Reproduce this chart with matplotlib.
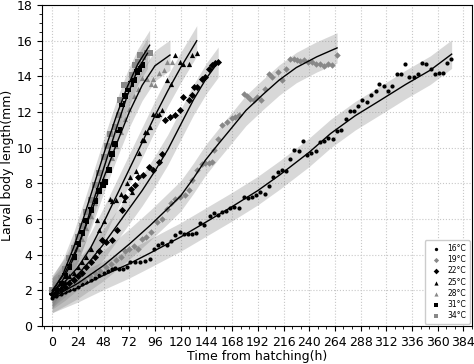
import matplotlib
matplotlib.use("Agg")
import matplotlib.pyplot as plt
from matplotlib.ticker import MultipleLocator

labels = ["16°C", "19°C", "22°C", "25°C", "28°C", "31°C", "34°C"]

# ---- observed points (time h, length mm) ----
t16 = [0, 4, 8, 12, 16, 20, 24, 28, 32, 36, 40, 44, 48, 52, 56, 59, 62, 66, 70, 73, 77, 82, 87, 91.5,
       95, 99, 103, 107, 111, 115, 119, 123, 127, 130.5, 134.5, 138, 142, 147, 151, 155, 158.5, 162.5,
       166, 170, 174.5, 178.7, 182.5, 186.5, 190.6, 194.3, 198.3, 202, 206.6, 211, 214.5, 218, 222,
       226, 230, 234, 238, 242, 246, 250, 254, 258, 262, 266, 270, 274, 278, 281.5, 285.7, 289.7,
       293.7, 297.8, 301.9, 305.6, 309.6, 313.7, 317.7, 321.7, 325.4, 329.5, 333.5, 337.6, 341.3,
       345.4, 349.4, 353.5, 357.2, 361.3, 365.3, 369.1, 372.8]
L16 = [1.6, 1.7, 1.8, 1.9, 2.0, 2.1, 2.2, 2.35, 2.5, 2.6, 2.7, 2.85, 3.0, 3.1, 3.22, 3.28, 3.22, 3.22,
       3.31, 3.59, 3.59, 3.59, 3.65, 3.78, 4.34, 4.53, 4.66, 4.57, 4.77, 5.09, 5.27, 5.18, 5.18, 5.15,
       5.22, 5.78, 5.65, 6.16, 6.34, 6.25, 6.4, 6.44, 6.64, 6.68, 6.64, 7.24, 7.2, 7.24, 7.33, 7.52,
       7.43, 7.84, 8.36, 8.64, 8.78, 8.68, 9.39, 9.86, 9.8, 10.36, 9.62, 9.71, 9.8, 10.33, 10.36,
       10.55, 10.5, 10.94, 10.98, 11.64, 12.07, 12.07, 12.33, 12.67, 12.57, 12.98, 13.19, 13.6,
       13.47, 13.17, 13.47, 14.12, 14.12, 14.72, 13.97, 13.97, 14.11, 14.76, 14.67, 14.44, 14.11,
       14.2, 14.22, 14.76, 15.0]

t19 = [0, 5, 10, 15, 20, 25, 30, 35, 40, 45, 50, 55, 60, 64, 68, 72, 76, 80, 84, 88, 92, 97.8, 102.5,
       107, 111, 115, 119.5, 123.6, 127.4, 130.5, 135, 139.8, 143, 146, 149, 150.7, 155.3, 158.5, 163,
       167.8, 171, 174, 178.7, 181.8, 185, 188, 191.2, 195, 198.3, 202, 205.2, 210.4, 214.5, 218.5,
       222.3, 225.4, 228.5, 231.7, 235.4, 239.2, 242.6, 246, 249.7, 253.5, 257.2, 261, 265.9]
L19 = [1.8, 1.9, 2.0, 2.2, 2.3, 2.5, 2.6, 2.8, 3.0, 3.1, 3.3, 3.5, 3.7, 3.9, 4.2, 4.3, 4.5, 4.3, 4.9,
       5.0, 5.3, 5.84, 6.03, 6.59, 6.9, 7.15, 7.24, 7.33, 7.61, 8.18, 8.74, 9.11, 9.15, 9.15, 9.2,
       9.86, 10.52, 11.26, 11.45, 11.69, 11.73, 11.82, 13.04, 12.89, 12.76, 12.67, 12.85, 12.7,
       13.32, 14.11, 13.97, 14.25, 13.79, 14.44, 15.0, 14.95, 14.91, 14.85, 14.91, 14.81, 14.81,
       14.72, 14.72, 14.57, 14.72, 14.63, 15.23]

t22 = [0, 4, 8, 12, 16, 20, 24, 28, 32, 36, 40, 44, 46.4, 50, 55.7, 60.4, 65, 68, 74, 77, 80.6, 85,
       90, 94.6, 99.3, 102.4, 105.5, 110.2, 115, 119.5, 122.6, 127.3, 130.5, 132, 135, 139.8, 143,
       146, 149, 152.2, 154.4]
L22 = [1.8, 1.9, 2.0, 2.2, 2.4, 2.6, 2.8, 3.0, 3.3, 3.6, 3.9, 4.2, 4.81, 4.7, 4.81, 5.37, 6.5, 7.24,
       7.71, 7.9, 8.36, 8.5, 8.92, 8.74, 9.2, 9.67, 11.58, 11.7, 11.82, 12.1, 12.85, 12.67, 12.95,
       13.41, 13.41, 13.88, 13.97, 14.44, 14.63, 14.76, 14.81]

t25 = [0, 4, 8, 12, 16, 20, 24, 28, 32, 36, 41.7, 44, 48, 54, 56, 60, 64, 66.6, 70, 72.8, 74.4, 78,
       81, 83.7, 85.3, 87, 88.4, 91.5, 94.6, 97.8, 100, 102.4, 107, 111, 114.9, 119.5, 122.6, 127.3,
       130.5, 135]
L25 = [1.9, 2.0, 2.2, 2.5, 2.8, 3.0, 3.3, 3.6, 3.9, 4.3, 5.93, 5.4, 5.9, 7.15, 7.0, 7.1, 7.4, 7.05,
       8.0, 8.36, 7.52, 8.7, 9.7, 10.42, 10.42, 10.89, 10.89, 11.17, 11.92, 11.82, 11.9, 12.1, 13.79,
       13.6, 15.19, 14.82, 14.72, 14.72, 15.19, 15.29]

t28 = [0, 4, 8, 12, 16, 20, 24, 28, 32, 36, 40, 44, 48, 52, 56, 60, 64, 68, 72, 76, 80, 84, 88.4, 92,
       94.6, 96.2, 100, 104, 107, 111.8]
L28 = [2.0, 2.2, 2.5, 2.9, 3.3, 3.8, 4.3, 4.9, 5.5, 6.2, 6.9, 7.6, 8.2, 8.8, 9.4, 10.1, 10.9, 11.6,
       12.2, 12.9, 13.3, 13.9, 13.88, 13.6, 13.88, 13.5, 14.2, 14.35, 14.82, 14.82]

t31 = [0, 4, 8, 12, 16, 20, 24, 28, 32, 36, 40, 44, 47, 49.5, 52.6, 55.7, 59, 62, 65, 68, 71, 73.5,
       76, 79, 81.5, 83.7]
L31 = [1.9, 2.1, 2.4, 2.8, 3.3, 3.9, 4.6, 5.2, 5.9, 6.5, 7.0, 7.6, 7.9, 8.08, 8.74, 9.67, 10.24,
       10.98, 12.48, 12.9, 13.32, 13.6, 13.79, 14.26, 14.4, 14.63]

t34 = [0, 4, 8, 12, 16, 20, 24, 28, 32, 36, 40, 44, 48, 51, 54, 59, 62, 63.5, 66.6, 71, 74.4, 77.5,
       80.6, 82, 85, 88.4, 91.5]
L34 = [2.0, 2.3, 2.7, 3.2, 3.8, 4.4, 5.0, 5.6, 6.4, 7.1, 7.9, 8.6, 9.5, 10.1, 10.8, 11.17, 11.82,
       12.67, 13.5, 13.5, 14.07, 14.63, 14.82, 15.19, 15.1, 15.29, 15.29]

# ---- fitted curves (time h, length mm) ----
ft16 = [0, 24, 48, 72, 91.5, 120, 144, 168, 192, 213, 240, 260, 283, 306, 330, 353, 373]
fL16 = [1.55, 2.15, 2.85, 3.5, 4.1, 5.0, 5.85, 6.7, 7.6, 8.5, 9.75, 10.8, 11.8, 12.65, 13.55, 14.35, 15.25]
ft19 = [0, 24, 48, 72, 91.5, 108, 120, 132, 143, 155, 166, 181, 197, 212, 228, 247, 266]
fL19 = [1.6, 2.4, 3.4, 4.6, 5.65, 6.6, 7.3, 8.3, 9.3, 10.2, 11.0, 12.1, 13.0, 13.8, 14.5, 15.1, 15.6]
ft22 = [0, 12, 24, 36, 48, 60, 72, 84, 96, 108, 120, 132, 144, 155]
fL22 = [1.8, 2.3, 2.9, 3.7, 4.6, 5.6, 6.6, 7.6, 8.7, 9.9, 11.3, 12.7, 13.9, 14.8]
ft25 = [0, 12, 24, 36, 48, 60, 72, 84, 96, 108, 120, 135]
fL25 = [1.9, 2.5, 3.3, 4.4, 5.8, 7.3, 8.8, 10.3, 11.8, 13.2, 14.5, 16.0]
ft28 = [0, 12, 24, 36, 48, 60, 72, 84, 96, 110]
fL28 = [2.0, 3.0, 4.5, 6.3, 8.3, 10.2, 12.0, 13.5, 14.6, 15.2]
ft31 = [0, 10, 20, 30, 40, 50, 60, 70, 80, 89]
fL31 = [1.85, 2.6, 3.8, 5.4, 7.3, 9.2, 11.1, 12.9, 14.4, 15.3]
ft34 = [0, 10, 20, 30, 40, 50, 60, 70, 80, 91]
fL34 = [1.9, 2.9, 4.4, 6.2, 8.1, 10.0, 11.8, 13.4, 14.7, 15.75]

# half-width of the shaded confidence band (mm)
band = [0.8, 0.85, 0.85, 0.85, 0.85, 0.85, 0.85]

series_t = [t16, t19, t22, t25, t28, t31, t34]
series_L = [L16, L19, L22, L25, L28, L31, L34]
fit_t = [ft16, ft19, ft22, ft25, ft28, ft31, ft34]
fit_L = [fL16, fL19, fL22, fL25, fL28, fL31, fL34]

markers = ["o", "D", "D", "^", "^", "s", "s"]
colors = ["black", "#888888", "black", "black", "#888888", "black", "#888888"]
sizes = [9, 11, 13, 14, 14, 13, 13]

fig = plt.figure(figsize=(4.74, 3.64), dpi=100)
ax = fig.add_axes([0.0886, 0.104, 0.9072, 0.882])

for i in range(7):
    ft, fl, hw = fit_t[i], fit_L[i], band[i]
    ax.fill_between(ft, [v - hw for v in fl], [v + hw for v in fl], color="grey", alpha=0.3,
                    linewidth=0, zorder=1)
for i in range(7):
    ax.plot(fit_t[i], fit_L[i], color="black", lw=1.0, zorder=3)
for i in range(7):
    ax.scatter(series_t[i], series_L[i], marker=markers[i], s=sizes[i], color=colors[i],
               linewidths=0, zorder=2, label=labels[i])

ax.set_xlim(-9.5, 392)
ax.set_ylim(0, 18)
ax.xaxis.set_major_locator(MultipleLocator(24))
ax.xaxis.set_minor_locator(MultipleLocator(8))
ax.yaxis.set_major_locator(MultipleLocator(2))
ax.yaxis.set_minor_locator(MultipleLocator(0.5))
ax.grid(True, which="major", linestyle=":", color="#c8c8c8", linewidth=0.8, zorder=0)
ax.set_axisbelow(True)
ax.tick_params(axis="both", which="major", labelsize=9, length=3.5, width=0.8)
ax.tick_params(axis="both", which="minor", length=2, width=0.6)
ax.set_xlabel("Time from hatching(h)", fontsize=9, labelpad=1)
ax.set_ylabel("Larval body length(mm)", fontsize=9, labelpad=2)

leg = ax.legend(loc="lower right", fontsize=5.5, frameon=True, handletextpad=0.5,
                borderpad=0.45, labelspacing=0.3, markerscale=0.8, fancybox=True, framealpha=1,
                edgecolor="#cccccc", borderaxespad=0.3)

fig.savefig("out.png", dpi=100)
